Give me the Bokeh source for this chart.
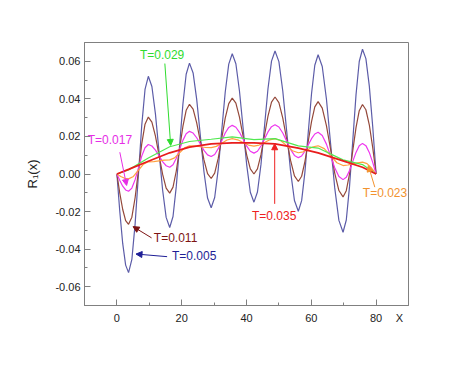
from bokeh.plotting import figure
from bokeh.models import Range1d, FixedTicker, NumeralTickFormatter, Label, Arrow, NormalHead
from bokeh.embed import file_html
from bokeh.resources import INLINE

# ---- data ----
x_fine = [0, 0.9, 1.8, 2.7, 3.6,
          4.62, 5.63, 6.65, 7.67, 8.68, 9.7,
          10.8, 11.9, 13.0, 14.1, 15.2, 16.3,
          17.32, 18.33, 19.35, 20.37, 21.38, 22.4,
          23.52, 24.63, 25.75, 26.87, 27.98, 29.1,
          30.18, 31.27, 32.35, 33.43, 34.52, 35.6,
          36.72, 37.83, 38.95, 40.07, 41.18, 42.3,
          43.38, 44.47, 45.55, 46.63, 47.72, 48.8,
          50.0, 51.2, 52.4, 53.6, 54.8, 56.0,
          57.02, 58.03, 59.05, 60.07, 61.08, 62.1,
          63.38, 64.67, 65.95, 67.23, 68.52, 69.8,
          70.8, 71.8, 72.8, 73.8, 74.8, 75.8,
          76.85, 77.9, 78.95, 80.0]

r_t005 = [0, -0.0201, -0.0371, -0.0485, -0.0525,
          -0.0455, -0.0264, -0.0003, 0.0259, 0.0450, 0.052,
          0.0466, 0.0319, 0.0118, -0.0084, -0.0231, -0.0285,
          -0.0226, -0.0066, 0.0153, 0.0371, 0.0531, 0.059,
          0.0538, 0.0397, 0.0205, 0.0012, -0.0128, -0.018,
          -0.0125, 0.0025, 0.0230, 0.0435, 0.0585, 0.064,
          0.0587, 0.0442, 0.0245, 0.0047, -0.0097, -0.015,
          -0.0096, 0.0051, 0.0253, 0.0454, 0.0601, 0.0655,
          0.0598, 0.0442, 0.0228, 0.0015, -0.0141, -0.0198,
          -0.0142, 0.0010, 0.0219, 0.0427, 0.0579, 0.0635,
          0.0572, 0.0399, 0.0162, -0.0074, -0.0247, -0.031,
          -0.0245, -0.0066, 0.0177, 0.0421, 0.0599, 0.0664,
          0.0614, 0.0469, 0.0254, 0.0]

r_t011 = [0, -0.0103, -0.0189, -0.0248, -0.0268,
          -0.0230, -0.0125, 0.0018, 0.0160, 0.0265, 0.0303,
          0.0276, 0.0202, 0.0101, -0.0001, -0.0075, -0.0102,
          -0.0070, 0.0016, 0.0135, 0.0253, 0.0339, 0.0371,
          0.0345, 0.0272, 0.0174, 0.0075, 0.0002, -0.0024,
          0.0005, 0.0083, 0.0190, 0.0297, 0.0375, 0.0404,
          0.0377, 0.0303, 0.0202, 0.0101, 0.0027, 0.0,
          0.0027, 0.0103, 0.0205, 0.0308, 0.0383, 0.041,
          0.0380, 0.0297, 0.0185, 0.0072, -0.0010, -0.004,
          -0.0012, 0.0066, 0.0173, 0.0279, 0.0357, 0.0385,
          0.0351, 0.0258, 0.0132, 0.0005, -0.0088, -0.0122,
          -0.0089, 0.0001, 0.0124, 0.0247, 0.0337, 0.037,
          0.0342, 0.0262, 0.0142, 0.0]

r_t017 = [0, -0.0035, -0.0065, -0.0085, -0.0092,
          -0.0075, -0.0030, 0.0033, 0.0095, 0.0140, 0.0157,
          0.0149, 0.0127, 0.0097, 0.0066, 0.0044, 0.0036,
          0.0049, 0.0084, 0.0132, 0.0179, 0.0214, 0.0227,
          0.0218, 0.0193, 0.0160, 0.0126, 0.0102, 0.0093,
          0.0104, 0.0135, 0.0176, 0.0218, 0.0248, 0.0259,
          0.0249, 0.0222, 0.0185, 0.0148, 0.0121, 0.0111,
          0.0121, 0.0149, 0.0187, 0.0224, 0.0252, 0.0262,
          0.0250, 0.0218, 0.0175, 0.0131, 0.0099, 0.0087,
          0.0096, 0.0121, 0.0155, 0.0188, 0.0213, 0.0222,
          0.0205, 0.0159, 0.0096, 0.0033, -0.0013, -0.003,
          -0.0017, 0.0018, 0.0067, 0.0115, 0.0150, 0.0163,
          0.0151, 0.0115, 0.0062, 0.0]

x_mid = [0, 1.2, 2.4, 3.6, 5.1, 6.65, 8.2, 9.7, 11.35, 13.0, 14.65, 16.3,
         17.8, 19.35, 20.9, 22.4, 24.1, 25.75, 27.4, 29.1, 30.7, 32.35, 34.0, 35.6,
         37.3, 38.95, 40.6, 42.3, 43.9, 45.55, 47.2, 48.8, 50.6, 52.4, 54.2, 56.0,
         57.5, 59.05, 60.6, 62.1, 64.0, 65.95, 67.9, 69.8, 71.3, 72.8, 74.3, 75.8,
         77.2, 78.6, 80.0]
r_t023 = [0, -0.0013, -0.0023, -0.0026, -0.0013, 0.0020, 0.0052, 0.0065,
          0.0066, 0.0070, 0.0074, 0.0075, 0.0086, 0.0113, 0.0139, 0.0150,
          0.0149, 0.0145, 0.0141, 0.0140, 0.0147, 0.0164, 0.0181, 0.0188,
          0.0182, 0.0168, 0.0154, 0.0148, 0.0154, 0.0168, 0.0182, 0.0188,
          0.0177, 0.0151, 0.0124, 0.0113, 0.0118, 0.0132, 0.0145, 0.0150,
          0.0135, 0.0098, 0.0060, 0.0045, 0.0048, 0.0054, 0.0060, 0.0063,
          0.0055, 0.0032, 0.0]

x_ext = [0, 3.6, 9.7, 16.3, 22.4, 29.1, 35.6, 42.3, 48.8, 56.0, 62.1, 69.8, 75.8, 80.0]
r_t029 = [0, 0.0022, 0.0085, 0.0145, 0.0173, 0.0185, 0.0198, 0.0183, 0.0188,
          0.0150, 0.0138, 0.0075, 0.0050, 0.0]
r_t035 = [0, 0.0025, 0.0068, 0.0113, 0.0143, 0.0160, 0.0166, 0.0166, 0.0160,
          0.0138, 0.0112, 0.0070, 0.0036, 0.0]

x_ticks = [0, 20, 40, 60, 80, 90]          # 90 carries the axis name "X"
x_minor = [-10, 10, 30, 50, 70]
x_tick_labels = {90: "X" + "\u00a0" * 6}
y_ticks = [-0.06, -0.04, -0.02, 0.0, 0.02, 0.04, 0.06]
y_minor = [-0.07, -0.05, -0.03, -0.01, 0.01, 0.03, 0.05, 0.07]

# annotations: text, colour, text position, arrow start, arrow tip
labels = [
    ("T=0.029", "#2fdc2f", (7.1, 0.0632), (14.8, 0.0588), (16.6, 0.0152)),
    ("T=0.017", "#e62ee6", (-9.0, 0.0179), (0.9, 0.0116), (3.0, -0.0061)),
    ("T=0.011", "#7d1414", (11.4, -0.0339), (10.7, -0.0340), (5.0, -0.0280)),
    ("T=0.005", "#1e1e96", (17.0, -0.0435), (15.5, -0.0440), (5.9, -0.0426)),
    ("T=0.035", "#ee2020", (41.7, -0.0221), (48.7, -0.0159), (48.7, 0.0161)),
    ("T=0.023", "#f2922e", (75.9, -0.0099), (79.6, -0.0070), (77.6, 0.0045)),
]

FONT = "Liberation Sans"

p = figure(width=458, height=350, output_backend="svg", toolbar_location=None,
           x_range=Range1d(-10, 90), y_range=Range1d(-0.07, 0.07),
           min_border_left=84, min_border_right=50, min_border_top=42, min_border_bottom=45)
p.xgrid.visible = False
p.ygrid.visible = False
p.outline_line_color = "#808080"
p.outline_line_width = 1
p.background_fill_color = "white"
p.border_fill_color = "white"

p.xaxis.ticker = FixedTicker(ticks=x_ticks, minor_ticks=x_minor)
p.xaxis.major_label_overrides = x_tick_labels
p.yaxis.ticker = FixedTicker(ticks=y_ticks, minor_ticks=y_minor)
p.yaxis.formatter = NumeralTickFormatter(format="0.00")
for ax in (p.xaxis, p.yaxis):
    ax.axis_line_color = "#808080"
    ax.major_tick_line_color = "#808080"
    ax.minor_tick_line_color = "#808080"
    ax.major_tick_in = 6
    ax.major_tick_out = 0
    ax.minor_tick_in = 3
    ax.minor_tick_out = 0
    ax.major_label_text_font = FONT
    ax.major_label_text_font_size = "11px"
    ax.major_label_text_color = "#222222"
p.xaxis.major_label_standoff = 6
p.yaxis.major_label_standoff = 4
p.yaxis.axis_label = "R\u2081(x)"
p.yaxis.axis_label_text_font = FONT
p.yaxis.axis_label_text_font_size = "13px"
p.yaxis.axis_label_text_font_style = "normal"
p.yaxis.axis_label_text_color = "#222222"
p.yaxis.axis_label_standoff = 12

p.line(x_fine, r_t005, line_color="#5c5ca8", line_width=1.2)
p.line(x_fine, r_t011, line_color="#94483a", line_width=1.2)
p.line(x_fine, r_t017, line_color="#ee36ee", line_width=1.2)
p.line(x_mid, r_t023, line_color="#ffa040", line_width=1.2)
p.line(x_ext, r_t029, line_color="#50e850", line_width=1.2)
p.line(x_ext, r_t035, line_color="#e81c1c", line_width=1.8)

for text, col, (tx, ty), (ax0, ay0), (ax1, ay1) in labels:
    p.add_layout(Label(x=tx, y=ty, text=text, text_color=col, text_font=FONT,
                       text_font_size="12px", text_align="left", text_baseline="middle"))
    p.add_layout(Arrow(x_start=ax0, y_start=ay0, x_end=ax1, y_end=ay1,
                       line_color=col, line_width=1,
                       end=NormalHead(size=6, fill_color=col, line_color=col)))

open("out.html", "w").write(file_html(p, INLINE))
